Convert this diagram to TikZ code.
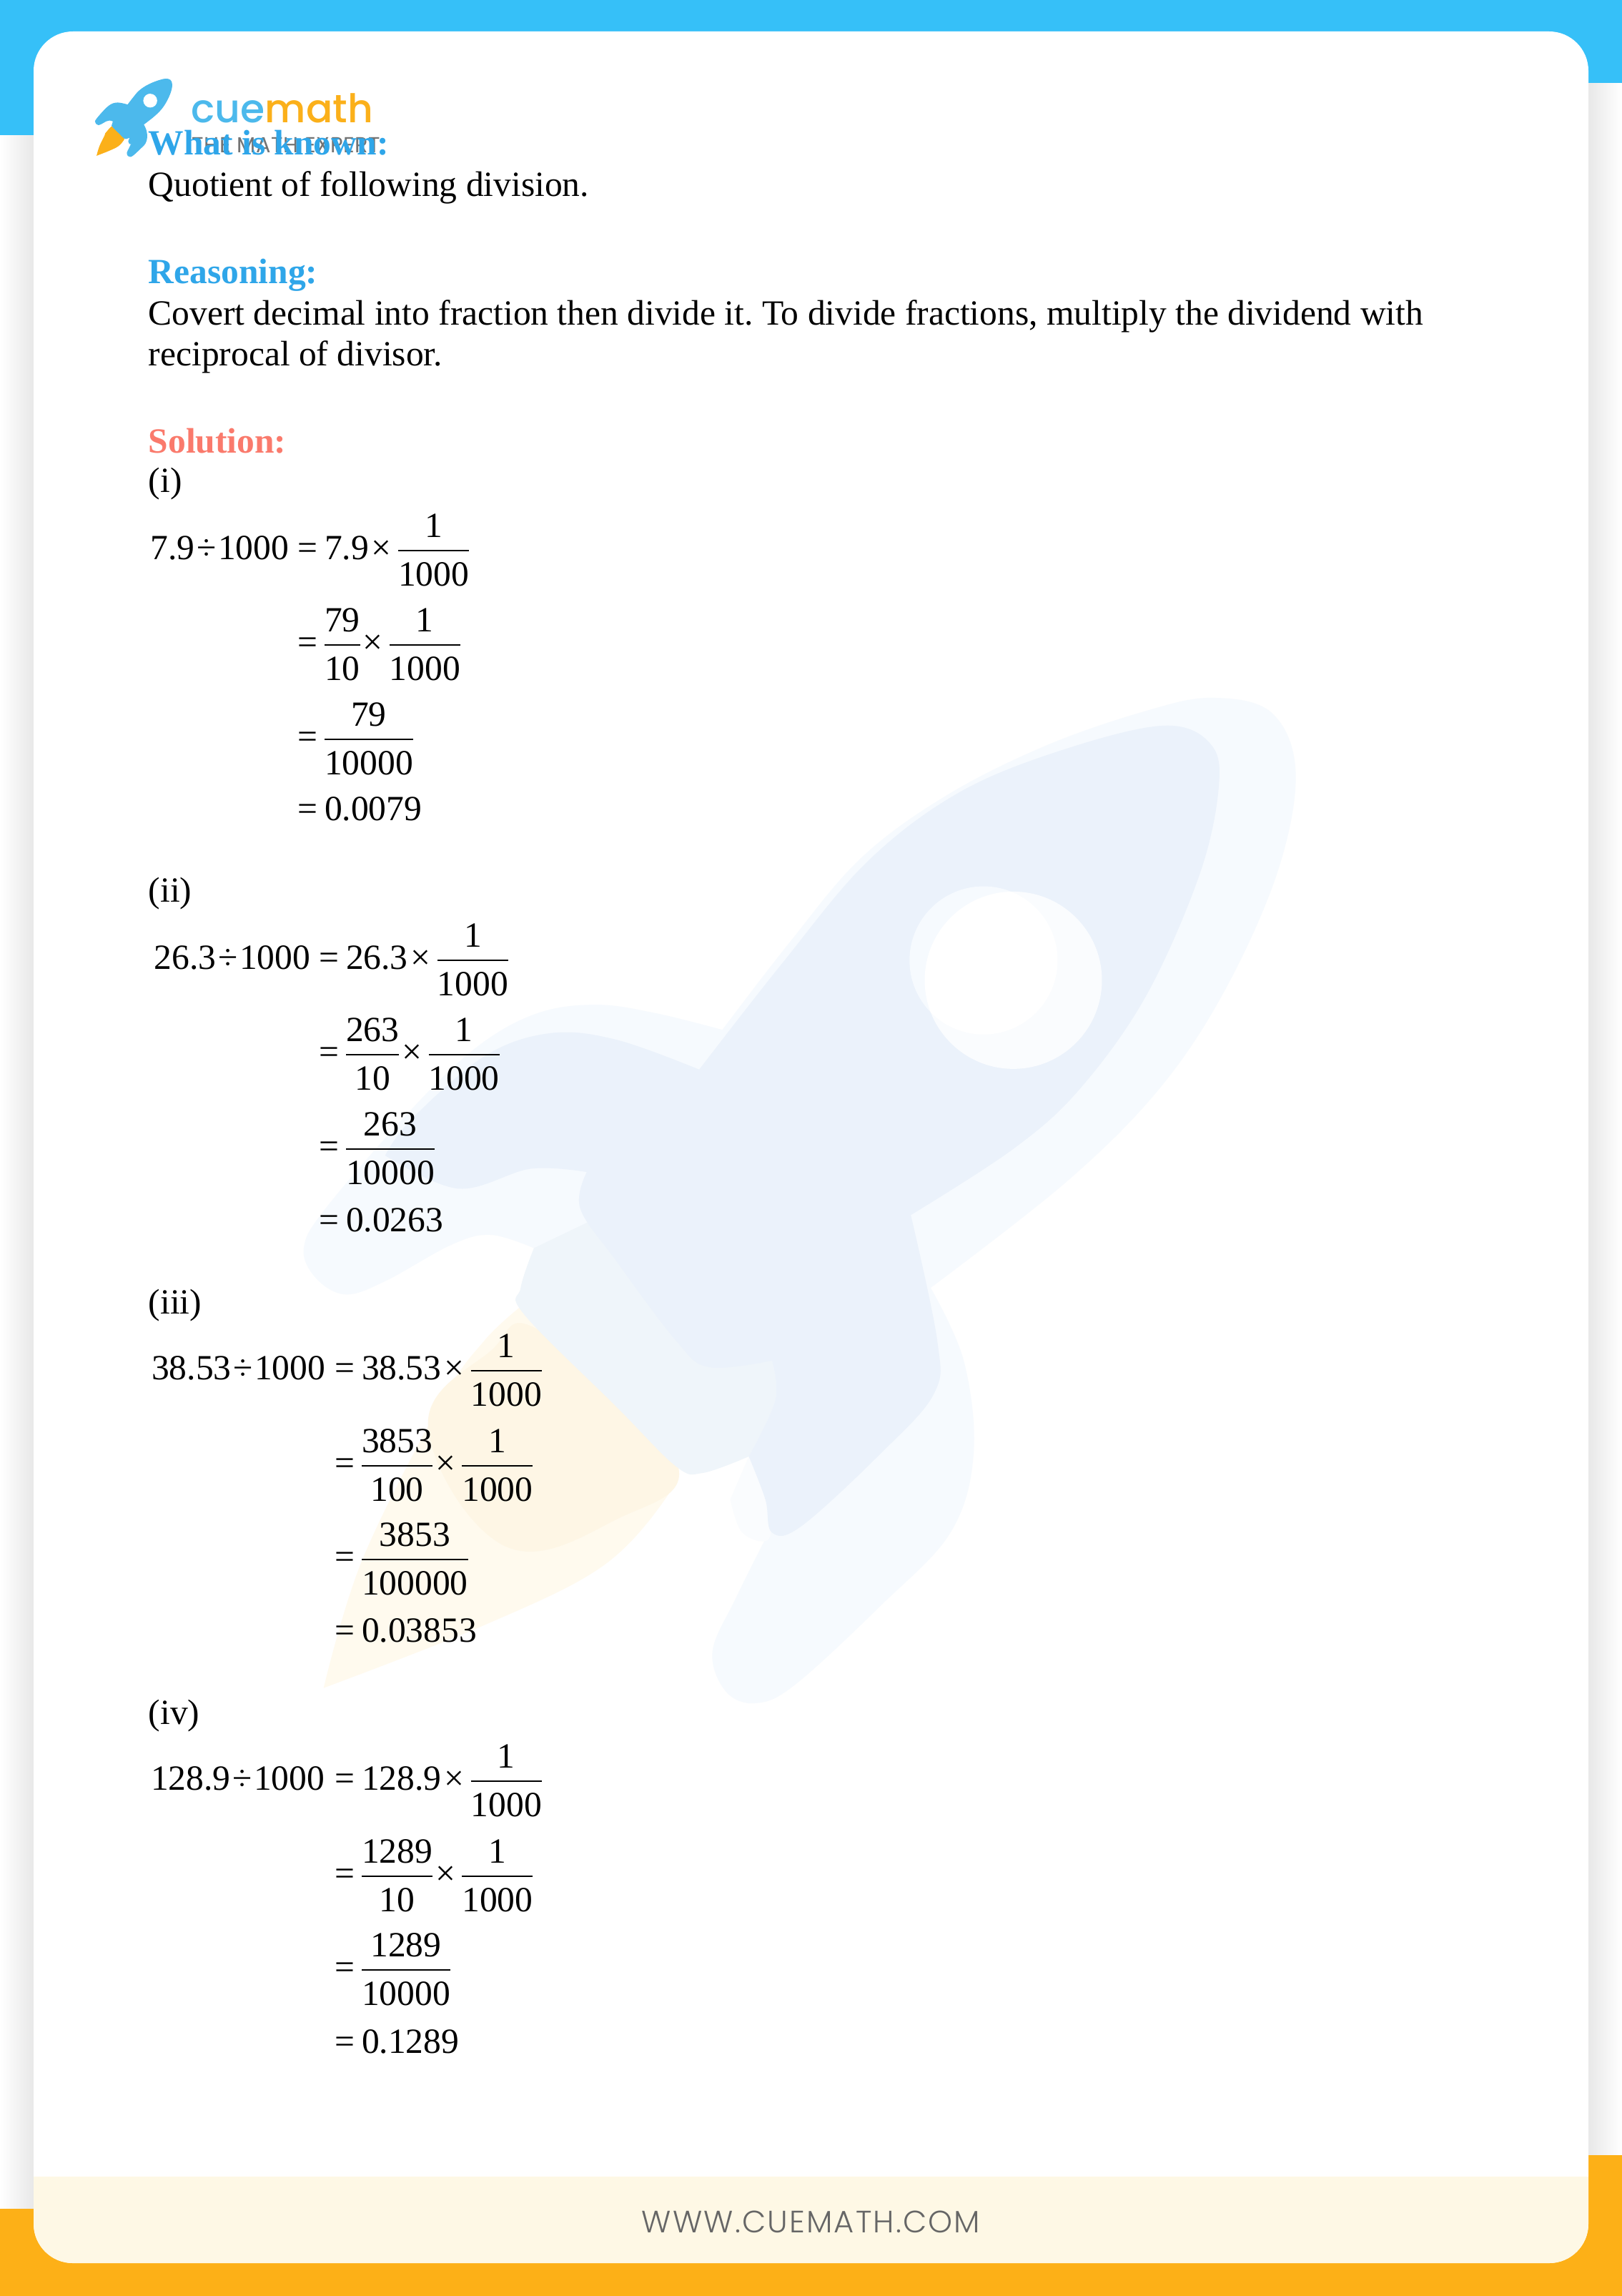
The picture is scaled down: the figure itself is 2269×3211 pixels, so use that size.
\documentclass[tikz,border=0pt]{standalone}
\usepackage{fontspec}
\setmainfont{Liberation Serif}
\newfontfamily\logofont{Poppins Medium}
\newfontfamily\tagfont[LetterSpace=2]{Poppins}
\newfontfamily\footfont[LetterSpace=5]{Poppins Light}
\usetikzlibrary{positioning}
\definecolor{skyband}{HTML}{36C0F8}
\definecolor{amberband}{HTML}{FDB017}
\definecolor{creamband}{HTML}{FEF8E5}
\definecolor{headblue}{HTML}{2FA6E9}
\definecolor{headred}{HTML}{FA7A6C}
\definecolor{logoblue}{HTML}{4CB9EC}
\definecolor{logoamber}{HTML}{FBB01A}
\definecolor{marklight}{HTML}{F6FAFE}
\definecolor{markdark}{HTML}{EBF2FB}
\definecolor{marknozzle}{HTML}{EFF5FA}
\definecolor{markwindow}{HTML}{FAFCFE}
\definecolor{flamemid}{HTML}{FEF6E5}
\definecolor{flamepale}{HTML}{FFFAEE}
\newcommand{\Fr}[2]{\displaystyle{\hbox{\lower0.5pt\hbox{#1}}\above 0.7pt \hbox{\lower1.25pt\hbox{#2}}}}
\newcommand{\Eq}{\mathrel{\hbox{=}}\mskip-1.5mu}
\newcommand{\Tm}{\mskip1.5mu\hbox{×}\mskip3.5mu}
\newcommand{\Dv}{\mskip1mu\hbox{÷}\mskip1mu}
\newcommand{\rocketshapes}{%
  \fill[flamepart] plot[smooth, tension=0.6] coordinates {(57,1525) (116,1330) (237,1089) (300,1000) (353,950)} -- plot[smooth, tension=0.6] coordinates {(590,1180) (580,1230) (480,1340) (300,1430) (57,1525)} -- cycle;
  \fill[flameinner] plot[smooth cycle, tension=0.7] coordinates {(215,1130) (309,1016) (386,986) (590,1180) (500,1270) (330,1310)};
  \fill[hulllight] plot[smooth, tension=0.6] coordinates {(660,530) (760,400) (870,270) (1000,175) (1150,100) (1300,48) (1400,28) (1490,50) (1527,140) (1500,290) (1420,470) (1320,620) (1180,760) (975,920)}
    -- plot[smooth, tension=0.6] coordinates {(975,920) (1025,1030) (1040,1170) (1005,1290) (900,1400) (770,1520) (710,1548) (665,1530) (645,1470) (680,1390) (730,1290)}
    -- (700,1175) -- plot[smooth, tension=0.6] coordinates {(375,860) (310,840) (250,855) (150,910) (90,930) (45,905) (27,860) (60,800) (190,650) (290,555) (380,505) (470,492) (560,505) (660,530)} -- cycle;
  \fill[crescentpart] plot[smooth, tension=0.6] coordinates {(700,1175) (730,1240) (730,1300) (690,1290) (672,1240)} -- cycle;
  \fill[nozzlepart] plot[smooth, tension=0.6] coordinates {(375,860) (355,920) (360,960) (500,1100) (590,1190) (630,1200) (700,1175)} -- plot[smooth, tension=0.6] coordinates {(700,1175) (740,1090) (735,1030)} -- (500,800) -- cycle;
  \fill[hulldark] plot[smooth, tension=0.6] coordinates {(625,590) (750,430) (880,275) (1020,170) (1180,105) (1330,70) (1400,100) (1410,170) (1380,300) (1300,480) (1200,620) (1100,710) (945,810)}
    -- plot[smooth, tension=0.6] coordinates {(945,810) (985,1000) (980,1080) (900,1170) (780,1280) (735,1290) (725,1240) (700,1175)}
    -- plot[smooth, tension=0.6] coordinates {(700,1175) (740,1090) (735,1030)}
    -- plot[smooth, tension=0.6] coordinates {(735,1030) (640,1040) (590,1000) (500,880) (445,800) (455,745)}
    -- plot[smooth, tension=0.6] coordinates {(455,745) (370,740) (260,770) (150,720)}
    -- plot[smooth, tension=0.6] coordinates {(150,720) (190,665) (300,570) (400,535) (500,545) (625,590)} -- cycle;
  \fill[ringpart] (1055,425) circle[radius=112];
  \fill[windowpart] (1100,455) circle[radius=134];
  \begin{scope}
    \clip (1055,425) circle[radius=112];
    \fill[windowcore] (1100,455) circle[radius=134];
  \end{scope}
}
\tikzset{
    plain/.style={anchor=base west, inner sep=0pt, font=\fontsize{12.38pt}{14pt}\selectfont},
    heading/.style={plain, font=\fontsize{12.38pt}{14pt}\selectfont\bfseries},
    rowleft/.style={plain, anchor=base east}
}
\frenchspacing
\nulldelimiterspace=0pt

\begin{document}
\begin{tikzpicture}[x=0.25pt,y=-0.25pt]
\useasboundingbox (0,0) rectangle (2269,3211);

% Page bands
\fill[white] (0,0) rectangle (2269,3211);
\fill[skyband] (0,0) rectangle (2269,117);
\fill[skyband] (0,0) rectangle (47,190);
\fill[amberband] (0,3089) -- (47,3086) -- (2222,3014) -- (2269,3012) -- (2269,3211) -- (0,3211) -- cycle;
\fill[left color=white, right color=black!9] (0,190) rectangle (47,3088);
\fill[left color=black!9, right color=white] (2222,117) rectangle (2269,3013);

% Card
\fill[white, rounded corners=13.75pt] (47,44) rectangle (2222,3165);
\begin{scope}
  \clip[rounded corners=13.75pt] (47,44) rectangle (2222,3165);
  \fill[creamband] (47,3044) rectangle (2222,3165);
\end{scope}

% Watermark
\begin{scope}[shift={(400,950)},scale=0.925,
    flamepart/.style={fill=flamepale}, flameinner/.style={fill=flamemid},
    hulllight/.style={fill=marklight}, hulldark/.style={fill=markdark},
    nozzlepart/.style={fill=marknozzle}, ringpart/.style={fill=marklight},
    crescentpart/.style={fill=markwindow},
    windowpart/.style={fill=markwindow}, windowcore/.style={fill=white}]
  \rocketshapes
\end{scope}

% Logo
\begin{scope}[shift={(131,108)},scale=0.072,
    flamepart/.style={fill=logoamber}, flameinner/.style={fill=logoamber},
    hulllight/.style={fill=logoblue}, hulldark/.style={fill=logoblue},
    nozzlepart/.style={fill=logoblue}, ringpart/.style={fill=logoblue},
    crescentpart/.style={fill=logoblue},
    windowpart/.style={fill=white}, windowcore/.style={fill=white}]
  \rocketshapes
\end{scope}
\node (brand) [anchor=base west, inner sep=0pt, font=\logofont\fontsize{13.8pt}{15pt}\selectfont] at (267,172) {\textcolor{logoblue}{cue}\textcolor{logoamber}{math}};
\node (tagline) [anchor=base west, inner sep=0pt, text=black!55, font=\tagfont\fontsize{7.6pt}{8pt}\selectfont] at (268,213) {THE MATH EXPERT};
\node (footer) [anchor=base west, inner sep=0pt, text=black!60, font=\footfont\fontsize{10.8pt}{12pt}\selectfont] at (897,3122) {WWW.CUEMATH.COM};

% Text
\node (known) [heading, text=headblue] at (207,217) {What is known:};
\node (quotient) [plain] at (207,275) {Quotient of following division.};
\node (reasoning) [heading, text=headblue] at (207,397) {Reasoning:};
\node (covert) [plain] at (207,454) {Covert decimal into fraction then divide it. To divide fractions, multiply the dividend with};
\node (reciprocal) [plain] at (207,511) {reciprocal of divisor.};
\node (solution) [heading, text=headred] at (207,633) {Solution:};

% Part i
\node (parti) [plain] at (207,688) {(i)};
\node (ia) [rowleft] at (405,782) {$\hbox{7.9}\Dv\hbox{1000}$};
\node (ib) [plain] at (416,782) {$\Eq\hbox{7.9}\Tm\Fr{1}{1000}$};
\node (ic) [plain] at (416,914) {$\Eq\Fr{79}{10}\Tm\Fr{1}{1000}$};
\node (id) [plain] at (416,1046) {$\Eq\Fr{79}{10000}$};
\node (ie) [plain] at (416,1147) {$\Eq\hbox{0.0079}$};

% Part ii
\node (partii) [plain] at (207,1261) {(ii)};
\node (iia) [rowleft] at (435,1355) {$\hbox{26.3}\Dv\hbox{1000}$};
\node (iib) [plain] at (446,1355) {$\Eq\hbox{26.3}\Tm\Fr{1}{1000}$};
\node (iic) [plain] at (446,1487) {$\Eq\Fr{263}{10}\Tm\Fr{1}{1000}$};
\node (iid) [plain] at (446,1619) {$\Eq\Fr{263}{10000}$};
\node (iie) [plain] at (446,1722) {$\Eq\hbox{0.0263}$};

% Part iii
\node (partiii) [plain] at (207,1837) {(iii)};
\node (iiia) [rowleft] at (456,1929) {$\hbox{38.53}\Dv\hbox{1000}$};
\node (iiib) [plain] at (468,1929) {$\Eq\hbox{38.53}\Tm\Fr{1}{1000}$};
\node (iiic) [plain] at (468,2062) {$\Eq\Fr{3853}{100}\Tm\Fr{1}{1000}$};
\node (iiid) [plain] at (468,2193) {$\Eq\Fr{3853}{100000}$};
\node (iiie) [plain] at (468,2296) {$\Eq\hbox{0.03853}$};

% Part iv
\node (partiv) [plain] at (207,2411) {(iv)};
\node (iva) [rowleft] at (455,2503) {$\hbox{128.9}\Dv\hbox{1000}$};
\node (ivb) [plain] at (468,2503) {$\Eq\hbox{128.9}\Tm\Fr{1}{1000}$};
\node (ivc) [plain] at (468,2636) {$\Eq\Fr{1289}{10}\Tm\Fr{1}{1000}$};
\node (ivd) [plain] at (468,2767) {$\Eq\Fr{1289}{10000}$};
\node (ive) [plain] at (468,2871) {$\Eq\hbox{0.1289}$};

\end{tikzpicture}
\end{document}
